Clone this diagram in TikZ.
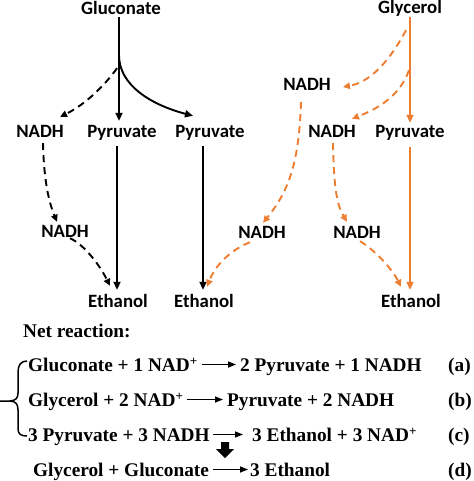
\documentclass[tikz,border=0pt]{standalone}
\usepackage{fontspec}
\setmainfont{Carlito}
\newfontfamily\tnr{Liberation Serif}
\usetikzlibrary{arrows.meta,calc}
\definecolor{orng}{HTML}{ED7D31}
\newcommand\plussup{\raisebox{0.3em}{\fontsize{13bp}{13bp}\selectfont +}}
\begin{document}
\begin{tikzpicture}[x=1bp,y=-1bp,
  lbl/.style={font=\fontsize{18.8bp}{20bp}\selectfont\bfseries, inner sep=0pt, text height=12bp, text depth=4bp, anchor=base},
  eq/.style={font=\tnr\fontsize{19.3bp}{22bp}\selectfont\bfseries, inner sep=0pt, text height=13bp, text depth=0pt, anchor=west},
  sarrow/.style={line width=1.9bp, -{Triangle[length=8bp,width=7bp]}},
  darrow/.style={line width=1.9bp, dash pattern=on 7bp off 5bp, -{Triangle[length=7bp,width=6.5bp]}},
  eqarrow/.style={line width=1.4bp, -{Triangle[length=8bp,width=6bp]}}]
\useasboundingbox (0,0) rectangle (474,481);
% ---- top labels
\node[lbl] (glu) at (121,15) {Gluconate};
\node[lbl] (gly) at (410,14) {Glycerol};
\node[lbl] (nl1) at (40,138) {NADH};
\node[lbl] (pyr1) at (122,138) {Pyruvate};
\node[lbl] (pyr2) at (210,138) {Pyruvate};
\node[lbl] (nl2) at (65,237) {NADH};
\node[lbl] (eth1) at (118,307) {Ethanol};
\node[lbl] (eth2) at (204,307) {Ethanol};
\node[lbl] (nr1) at (307,91) {NADH};
\node[lbl] (nr2) at (332,138) {NADH};
\node[lbl] (pyrR) at (410,138) {Pyruvate};
\node[lbl] (nr3) at (262,238) {NADH};
\node[lbl] (nr4) at (357,238) {NADH};
\node[lbl] (ethR) at (411,307) {Ethanol};
% ---- black (gluconate) pathway
\draw[sarrow] ($(glu.south)+(-2,-2)$) -- ($(pyr1.north)+(-3,-5)$);
\coordinate (br1) at ($(glu.south)+(-2,36)$);
\draw[sarrow] (br1) .. controls +(0,30) and +(-42,-11) .. ($(pyr2.north)+(-17,-10)$);
\draw[darrow] ($(br1)+(-2,13)$) .. controls +(-12,17) and +(25,-12) .. ($(nl1.north)+(20,-9)$);
\draw[darrow] ($(nl1.south)+(3,1)$) .. controls +(1,42) and +(-7,-17) .. ($(nl2.north)+(-8,-3)$);
\draw[darrow] ($(nl2.south)+(5,-3)$) .. controls +(15,7) and +(-10,-20) .. ($(eth1.north)+(-8,-9)$);
\draw[sarrow] ($(pyr1.south)+(-5,4)$) -- ($(eth1.north)+(-1,-5)$);
\draw[sarrow] ($(pyr2.south)+(-7,4)$) -- ($(eth2.north)+(-1,-5)$);
% ---- orange (glycerol) pathway
\begin{scope}[draw=orng, color=orng]
\draw[sarrow] ($(gly.south)+(0,-1)$) -- ($(pyrR.north)+(0,-3)$);
\draw[sarrow] ($(pyrR.south)+(0,5)$) -- ($(ethR.north)+(-1,-5)$);
\draw[darrow] ($(gly.south)+(-4,12)$) .. controls +(-16,30) and +(28,-5) .. ($(nr1.east)+(12,0)$);
\draw[darrow] ($(gly.south)+(-1,52)$) .. controls +(-9,25) and +(28,-11) .. ($(nr2.north east)+(-4,-7)$);
\draw[darrow] ($(nr1.south)+(-6,7)$) .. controls +(-2,58) and +(27,-33) .. ($(nr3.north)+(1,-3)$);
\draw[darrow] ($(nr2.south)+(1,1)$) .. controls +(1,47) and +(-10,-17) .. ($(nr4.north)+(-10,-4)$);
\draw[darrow] ($(nr4.south)+(3,-1)$) .. controls +(15,9) and +(-9,-18) .. ($(ethR.north)+(-10,-8)$);
\draw[darrow] ($(nr3.south)+(-12,0)$) .. controls +(-20,8) and +(8,-21) .. ($(eth2.north)+(3,-8)$);
\end{scope}
% ---- net reactions
\node[eq] (net) at (23,330.5) {Net reaction:};
\node[eq] (a1) at (28,364.5) {Gluconate + 1 NAD\plussup};
\node[eq] (a2) at (240,364.5) {2 Pyruvate + 1 NADH};
\node[eq] (al) at (448,364.5) {(a)};
\node[eq] (b1) at (28,399.5) {Glycerol + 2 NAD\plussup};
\node[eq] (b2) at (227,399.5) {Pyruvate + 2 NADH};
\node[eq] (bl) at (448,399.5) {(b)};
\node[eq] (c1) at (28,434.5) {3 Pyruvate + 3 NADH};
\node[eq] (c2) at (252,434.5) {3 Ethanol + 3 NAD\plussup};
\node[eq] (cl) at (448,434.5) {(c)};
\node[eq] (d1) at (33,469.5) {Glycerol + Gluconate};
\node[eq] (d2) at (250,469.5) {3 Ethanol};
\node[eq] (dl) at (448,469.5) {(d)};
\draw[eqarrow, shorten <=5bp, shorten >=4bp] (a1.east) -- (a2.west);
\draw[eqarrow, shorten <=4bp, shorten >=4bp] (b1.east) -- (b2.west);
\draw[eqarrow, shorten <=3bp, shorten >=9bp] (c1.east) -- (c2.west);
\draw[eqarrow, shorten <=4bp, shorten >=2bp] (d1.east) -- (d2.west);
% thick down arrow
\fill (221,442) -- (229,442) -- (229,449) -- (234,449) -- (225,458) -- (216,449) -- (221,449) -- cycle;
% brace
\draw[line width=1.5bp] (27,361) .. controls (21,361) and (18,365) .. (18,372) -- (18,393)
  .. controls (18,398) and (16,400.5) .. (10,401) -- (0,401);
\draw[line width=1.5bp] (10,401) .. controls (16,401.5) and (18,404) .. (18,410) -- (18,429)
  .. controls (18,434) and (21,436) .. (27,436);
\end{tikzpicture}
\end{document}
